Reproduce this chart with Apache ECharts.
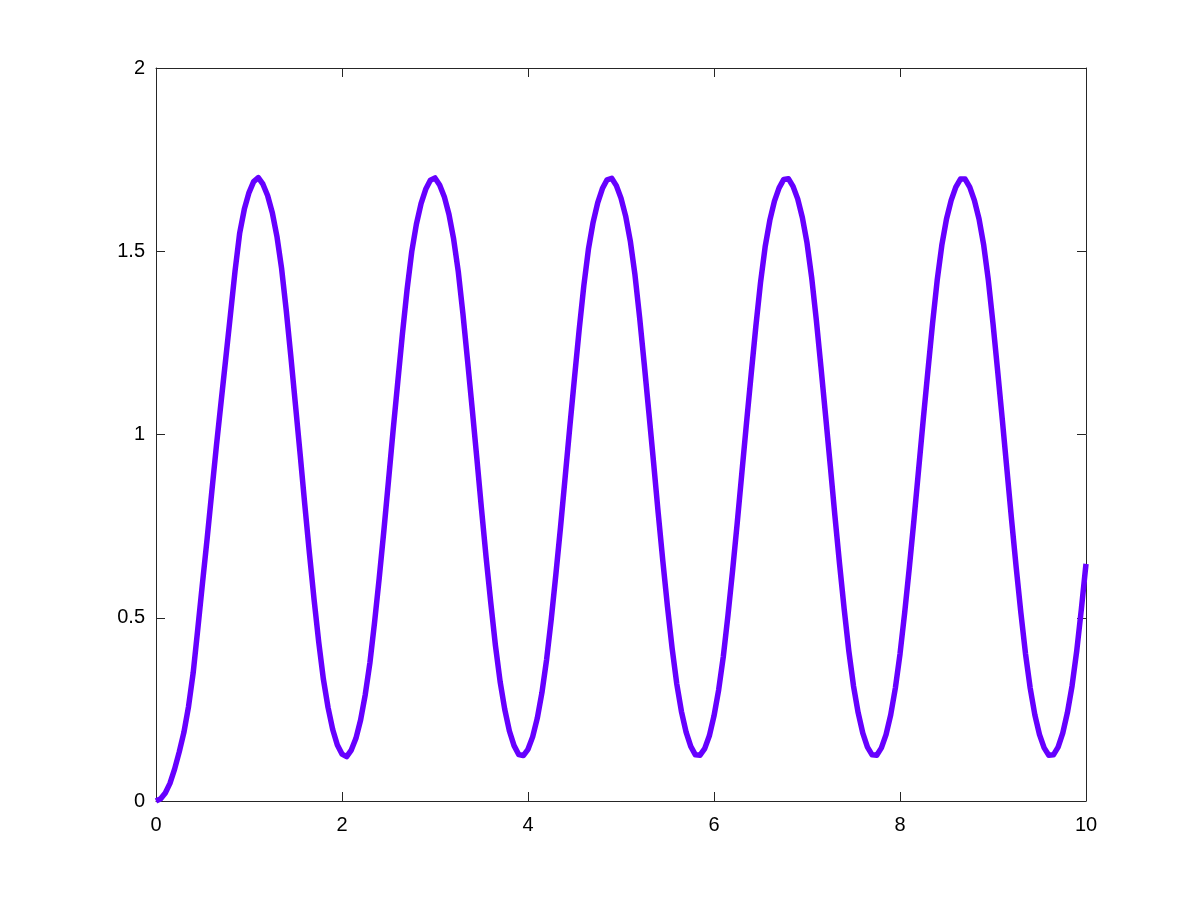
<!DOCTYPE html>
<html>
<head>
<meta charset="utf-8">
<script src="https://cdn.jsdelivr.net/npm/echarts@6/dist/echarts.min.js"></script>
<style>
  html, body { margin: 0; padding: 0; background: #ffffff; }
  #chart { width: 1200px; height: 902px; }
</style>
</head>
<body>
<div id="chart"></div>
<script>
// x sample positions
const xValues = [
  0.00,0.05,0.10,0.15,0.20,0.25,0.30,0.35,0.40,0.45,0.50,0.55,0.60,0.65,0.70,0.75,0.80,0.85,0.90,0.95,
  1.00,1.05,1.10,1.15,1.20,1.25,1.30,1.35,1.40,1.45,1.50,1.55,1.60,1.65,1.70,1.75,1.80,1.85,1.90,1.95,
  2.00,2.05,2.10,2.15,2.20,2.25,2.30,2.35,2.40,2.45,2.50,2.55,2.60,2.65,2.70,2.75,2.80,2.85,2.90,2.95,
  3.00,3.05,3.10,3.15,3.20,3.25,3.30,3.35,3.40,3.45,3.50,3.55,3.60,3.65,3.70,3.75,3.80,3.85,3.90,3.95,
  4.00,4.05,4.10,4.15,4.20,4.25,4.30,4.35,4.40,4.45,4.50,4.55,4.60,4.65,4.70,4.75,4.80,4.85,4.90,4.95,
  5.00,5.05,5.10,5.15,5.20,5.25,5.30,5.35,5.40,5.45,5.50,5.55,5.60,5.65,5.70,5.75,5.80,5.85,5.90,5.95,
  6.00,6.05,6.10,6.15,6.20,6.25,6.30,6.35,6.40,6.45,6.50,6.55,6.60,6.65,6.70,6.75,6.80,6.85,6.90,6.95,
  7.00,7.05,7.10,7.15,7.20,7.25,7.30,7.35,7.40,7.45,7.50,7.55,7.60,7.65,7.70,7.75,7.80,7.85,7.90,7.95,
  8.00,8.05,8.10,8.15,8.20,8.25,8.30,8.35,8.40,8.45,8.50,8.55,8.60,8.65,8.70,8.75,8.80,8.85,8.90,8.95,
  9.00,9.05,9.10,9.15,9.20,9.25,9.30,9.35,9.40,9.45,9.50,9.55,9.60,9.65,9.70,9.75,9.80,9.85,9.90,9.95,
  10.00
];

// y values
const yValues = [
  0,0.006,0.022,0.048,0.087,0.134,0.187,0.258,0.350,0.471,0.595,0.716,0.844,0.970,1.089,1.207,1.326,1.446,1.550,1.615,
  1.660,1.690,1.701,1.683,1.652,1.606,1.541,1.454,1.340,1.213,1.080,0.946,0.808,0.675,0.549,0.433,0.332,0.255,0.195,0.153,
  0.128,0.121,0.139,0.171,0.221,0.290,0.377,0.487,0.608,0.737,0.874,1.012,1.144,1.275,1.396,1.499,1.574,1.630,1.669,1.694,
  1.700,1.681,1.649,1.601,1.534,1.445,1.330,1.202,1.070,0.935,0.797,0.664,0.540,0.424,0.326,0.250,0.191,0.151,0.127,0.124,
  0.141,0.175,0.226,0.296,0.386,0.496,0.619,0.748,0.885,1.022,1.155,1.285,1.405,1.506,1.579,1.633,1.671,1.695,1.699,1.679,
  1.645,1.596,1.528,1.436,1.320,1.192,1.059,0.924,0.786,0.654,0.530,0.416,0.319,0.244,0.188,0.149,0.126,0.125,0.143,0.178,
  0.232,0.303,0.394,0.506,0.629,0.759,0.896,1.033,1.165,1.295,1.414,1.512,1.584,1.637,1.673,1.696,1.698,1.677,1.643,1.592,
  1.523,1.429,1.313,1.184,1.051,0.916,0.778,0.647,0.523,0.409,0.314,0.241,0.185,0.147,0.126,0.125,0.145,0.181,0.235,0.308,
  0.401,0.513,0.636,0.767,0.904,1.041,1.173,1.303,1.421,1.517,1.588,1.639,1.675,1.697,1.697,1.675,1.639,1.588,1.517,1.421,
  1.303,1.173,1.041,0.904,0.767,0.636,0.513,0.401,0.308,0.235,0.181,0.145,0.125,0.126,0.147,0.185,0.241,0.314,0.409,0.523,
  0.647
];

// axis ranges / ticks
const xRange = [0, 10];
const xTickStep = 2;
const yRange = [0, 2];
const yTickStep = 0.5;

const seriesData = xValues.map((x, i) => [x, yValues[i]]);

const axisColor = '#262626';
const fontFamily = '"Liberation Sans", Arial, Helvetica, sans-serif';

function makeX(pos, showLabel) {
  return {
    type: 'value', position: pos, min: xRange[0], max: xRange[1], interval: xTickStep,
    axisLine: { show: true, onZero: false, lineStyle: { color: axisColor, width: 1 } },
    axisTick: { show: true, inside: true, length: 9, lineStyle: { color: axisColor, width: 1 } },
    axisLabel: { show: showLabel, color: '#000', fontSize: 20, fontFamily: fontFamily, margin: 14 },
    splitLine: { show: false }
  };
}
function makeY(pos, showLabel) {
  return {
    type: 'value', position: pos, min: yRange[0], max: yRange[1], interval: yTickStep,
    axisLine: { show: true, onZero: false, lineStyle: { color: axisColor, width: 1 } },
    axisTick: { show: true, inside: true, length: 9, lineStyle: { color: axisColor, width: 1 } },
    axisLabel: { show: showLabel, color: '#000', fontSize: 20, fontFamily: fontFamily, margin: 11 },
    splitLine: { show: false }
  };
}

const chart = echarts.init(document.getElementById('chart'), null, { renderer: 'canvas' });
chart.setOption({
  animation: false,
  backgroundColor: '#ffffff',
  grid: { left: 156, right: 114, top: 68, bottom: 101, containLabel: false },
  xAxis: [ makeX('bottom', true), makeX('top', false) ],
  yAxis: [ makeY('left', true), makeY('right', false) ],
  series: [{
    type: 'line',
    xAxisIndex: 0,
    yAxisIndex: 0,
    data: seriesData,
    showSymbol: false,
    symbol: 'none',
    smooth: false,
    clip: true,
    lineStyle: { color: '#6600ff', width: 5.5, join: 'round' }
  }]
});
</script>
</body>
</html>
